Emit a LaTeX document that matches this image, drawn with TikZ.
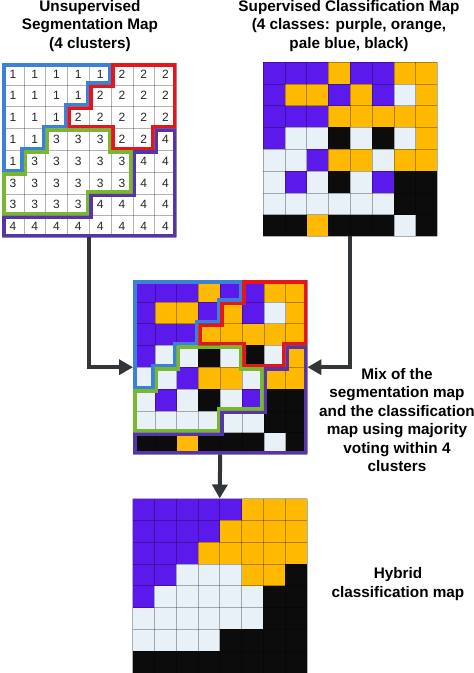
\documentclass[tikz,border=0pt]{standalone}
\usepackage{fontspec}
\setmainfont{Liberation Sans}
\usetikzlibrary{arrows.meta}
\definecolor{cP}{HTML}{5B19EB}
\definecolor{cO}{HTML}{FFB900}
\definecolor{cL}{HTML}{E7F1F7}
\definecolor{cB}{HTML}{0C0C0C}
\definecolor{olBlue}{HTML}{3B82D6}
\definecolor{olRed}{HTML}{E4161B}
\definecolor{olGreen}{HTML}{7AB730}
\definecolor{olPurple}{HTML}{5635A8}
\definecolor{arrowgray}{HTML}{333638}
\tikzset{
  cellline/.style={draw=black, draw opacity=0.3, line width=0.6pt},
  digit/.style={font=\fontsize{12}{12}\selectfont, text=black!85, inner sep=0pt},
  lbl/.style={font=\bfseries\fontsize{15.3}{18.5}\selectfont, align=center, inner sep=0pt},
  arr/.style={draw=arrowgray, line width=4pt, -{Triangle[length=14pt,width=15pt]}},
  region/.style={line width=7pt, line join=miter},
  gridnode/.style={minimum width=174.4pt, minimum height=174.4pt, inner sep=0pt, outer sep=0pt},
  rA/.style={insert path={(0,0) -- (5,0) -- (5,1) -- (4,1) -- (4,2) -- (3,2) -- (3,3) -- (2,3) -- (2,4) -- (1,4) -- (1,5) -- (0,5) -- cycle}},
  rB/.style={insert path={(5,0) -- (8,0) -- (8,3) -- (7,3) -- (7,4) -- (5,4) -- (5,3) -- (3,3) -- (3,2) -- (4,2) -- (4,1) -- (5,1) -- cycle}},
  rC/.style={insert path={(2,3) -- (5,3) -- (5,4) -- (6,4) -- (6,6) -- (4,6) -- (4,7) -- (0,7) -- (0,5) -- (1,5) -- (1,4) -- (2,4) -- cycle}},
  rD/.style={insert path={(7,3) -- (8,3) -- (8,8) -- (0,8) -- (0,7) -- (4,7) -- (4,6) -- (6,6) -- (6,4) -- (7,4) -- cycle}}
}
\newcommand\drawcolgrid[2]{%
  \begin{scope}[shift={(#1.north west)}, x=21.8pt, y=-21.8pt]
    \foreach \row [count=\j from 0] in {#2} {
      \foreach \c [count=\i from 0] in \row {
        \fill[c\c] (\i,\j) rectangle ++(1,1);
      }
    }
    \foreach \k in {0,...,8} {
      \draw[cellline] (\k,0) -- (\k,8);
      \draw[cellline] (0,\k) -- (8,\k);
    }
  \end{scope}}
\newcommand\drawregions[1]{%
  \begin{scope}[shift={(#1.north west)}, x=21.8pt, y=-21.8pt]
    \begin{scope}\clip[rA]; \draw[region, olBlue, rA]; \end{scope}
    \begin{scope}\clip[rB]; \draw[region, olRed, rB]; \end{scope}
    \begin{scope}\clip[rC]; \draw[region, olGreen, rC]; \end{scope}
    \begin{scope}\clip[rD]; \draw[region, olPurple, rD]; \end{scope}
  \end{scope}}
\begin{document}
\begin{tikzpicture}[x=1pt,y=-1pt]
\useasboundingbox (0,0) rectangle (474,673);
% grid placeholders
\node[gridnode] (seg) at (89.2,150.2) {};
\node[gridnode] (cls) at (350.2,149.2) {};
\node[gridnode] (mix) at (220.2,367.2) {};
\node[gridnode] (hyb) at (219.7,585.7) {};
% segmentation map
\begin{scope}[shift={(seg.north west)}, x=21.8pt, y=-21.8pt]
  \fill[white] (0,0) rectangle (8,8);
  \foreach \k in {0,...,8} {
    \draw[cellline] (\k,0) -- (\k,8);
    \draw[cellline] (0,\k) -- (8,\k);
  }
  \foreach \row [count=\j from 0] in {{1,1,1,1,1,2,2,2},{1,1,1,1,2,2,2,2},{1,1,1,2,2,2,2,2},{1,1,3,3,3,2,2,4},{1,3,3,3,3,3,4,4},{3,3,3,3,3,3,4,4},{3,3,3,3,4,4,4,4},{4,4,4,4,4,4,4,4}} {
    \foreach \d [count=\i from 0] in \row {
      \node[digit] (n\i-\j) at (\i+0.5,\j+0.5) {\d};
    }
  }
\end{scope}
\drawregions{seg}
% classification map
\drawcolgrid{cls}{{P,P,P,O,P,P,O,O},{P,O,O,P,O,P,L,O},{P,P,P,O,O,O,O,O},{P,L,L,B,L,B,L,O},{L,L,P,O,O,L,O,O},{L,P,L,B,L,P,B,B},{L,L,L,L,L,L,B,B},{B,B,O,B,B,B,L,B}}
% mix map
\drawcolgrid{mix}{{P,P,P,O,P,P,O,O},{P,O,O,P,O,P,L,O},{P,P,P,O,O,O,O,O},{P,L,L,B,L,B,L,O},{L,L,P,O,O,L,O,O},{L,P,L,B,L,P,B,B},{L,L,L,L,L,L,B,B},{B,B,O,B,B,B,L,B}}
\drawregions{mix}
% hybrid map
\drawcolgrid{hyb}{{P,P,P,P,P,O,O,O},{P,P,P,P,O,O,O,O},{P,P,P,O,O,O,O,O},{P,P,L,L,L,O,O,B},{P,L,L,L,L,L,B,B},{L,L,L,L,L,L,B,B},{L,L,L,L,B,B,B,B},{B,B,B,B,B,B,B,B}}
% labels
\node[lbl] (hdrseg) at (90,26) {Unsupervised\\Segmentation Map\\(4 clusters)};
\node[lbl] (hdrcls) at (349,26) {Supervised Classification Map\\(4 classes: purple, orange,\\pale blue, black)};
\node[lbl] (mixtxt) at (397,420) {Mix of the\\segmentation map\\and the classification\\map using majority\\voting within 4\\clusters};
\node[lbl] (hybtxt) at (398,584) {Hybrid\\classification map};
% arrows
\draw[arr] (seg.south) |- (mix.west);
\draw[arr] (cls.south) |- (mix.east);
\draw[arr] (mix.south) -- (hyb.north);
\end{tikzpicture}
\end{document}
